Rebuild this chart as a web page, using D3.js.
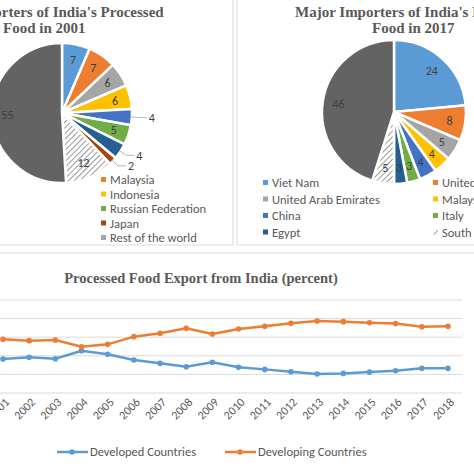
<!DOCTYPE html>
<html><head><meta charset="utf-8">
<script src="https://cdn.jsdelivr.net/npm/d3@7"></script>
<style>body{margin:0;background:#fff}svg{display:block}</style>
</head><body>
<svg id="c" width="474" height="474"></svg>
<script>
const pie1Values=[7,7,6,6,4,5,4,2,12,55];
const pie1Colors=["#5B9BD5","#ED7D31","#A5A5A5","#FFC000","#4472C4","#70AD47","#255E91","#9E480E","hatch","#636363"];
const pie1Legend=["Malaysia","Indonesia","Russian Federation","Japan","Rest of the world"];
const pie1LegendColors=["#ED7D31","#FFC000","#70AD47","#9E480E","#A5A5A5"];
const pie2Values=[24,8,5,4,4,3,3,5,46];
const pie2Colors=["#5B9BD5","#ED7D31","#A5A5A5","#FFC000","#4472C4","#70AD47","#255E91","hatch","#636363"];
const pie2LegendL=["Viet Nam","United Arab Emirates","China","Egypt"];
const pie2LegendLC=["#5B9BD5","#A5A5A5","#4472C4","#255E91"];
const pie2LegendR=["United Kingdom","Malaysia","Italy","South Africa"];
const pie2LegendRC=["#ED7D31","#FFC000","#70AD47","hatch"];
const years=["2001","2002","2003","2004","2005","2006","2007","2008","2009","2010","2011","2012","2013","2014","2015","2016","2017","2018"];
const developed=[36.6,38.4,36.9,45.5,41.6,35.5,31.9,28.3,33.0,27.6,25.4,22.9,20.4,21.1,22.6,24.0,26.5,26.5];
const developing=[57.7,56.3,57.0,49.8,52.3,60.6,64.2,69.5,63.4,68.8,71.7,74.9,77.4,76.7,75.6,74.6,71.3,71.7];

const svg=d3.select("#c");
const defs=svg.append("defs");
const pat=defs.append("pattern").attr("id","hatch").attr("patternUnits","userSpaceOnUse").attr("width",4).attr("height",4).attr("patternTransform","rotate(45)");
pat.append("rect").attr("width",4).attr("height",4).attr("fill","#fff");
pat.append("line").attr("x1",0).attr("y1",0).attr("x2",0).attr("y2",4).attr("stroke","#7f7f7f").attr("stroke-width",1.6);
const fillOf=c=>c==="hatch"?"url(#hatch)":c;
const titleFont="'Liberation Serif', serif";
const bodyFont="Calibri, Carlito, 'Open Sans', sans-serif";

svg.append("rect").attr("x",-5).attr("y",-5).attr("width",238).attr("height",250).attr("fill","none").attr("stroke","#d9d9d9");
svg.append("rect").attr("x",237).attr("y",-5).attr("width",250).attr("height",250).attr("fill","none").attr("stroke","#d9d9d9");
svg.append("rect").attr("x",-5).attr("y",253).attr("width",484).attr("height",230).attr("fill","none").attr("stroke","#d9d9d9");

function drawPie(cx,cy,r,values,colors,outside){
  const g=svg.append("g").attr("transform",`translate(${cx},${cy})`);
  const arcs=d3.pie().sort(null)(values);
  const arc=d3.arc().innerRadius(0).outerRadius(r);
  g.selectAll("path").data(arcs).join("path").attr("d",arc)
   .attr("fill",(d,i)=>fillOf(colors[i])).attr("stroke","#fff").attr("stroke-width",2.5);
  arcs.forEach((d,i)=>{
    const a=(d.startAngle+d.endAngle)/2;
    const out=outside.includes(i);
    const rr=out?r*1.1:r*0.78;
    let x=Math.sin(a)*rr,y=-Math.cos(a)*rr;
    if(out){
      const x0=Math.sin(a)*r*0.98,y0=-Math.cos(a)*r*0.98;
      g.append("polyline").attr("points",`${x0},${y0} ${x},${y} ${x+8},${y}`).attr("fill","none").attr("stroke","#a6a6a6").attr("stroke-width",0.8);
      x+=10;
    }
    g.append("text").attr("x",x).attr("y",y).attr("dy","0.35em").attr("text-anchor",out?"start":"middle")
     .attr("font-family",bodyFont).attr("font-size",12).attr("fill","#404040").text(values[i]);
  });
}
drawPie(62,113,70,pie1Values,pie1Colors,[4,6,7]);
drawPie(394,112,72,pie2Values,pie2Colors,[]);

function title(x,y,t,anchor){svg.append("text").attr("x",x).attr("y",y).attr("text-anchor",anchor||"start").attr("font-family",titleFont).attr("font-weight","bold").attr("font-size",15).attr("fill","#595959").text(t);}
title(-14,17,"porters of India's Processed");
title(3,33,"Food   in 2001");
title(295,17,"Major Importers of India's Processed");
title(372,33,"Food   in 2017");

function legend(x,y0,items,cols,dy){
  items.forEach((t,i)=>{
    const y=y0+i*dy;
    svg.append("rect").attr("x",x).attr("y",y-3).attr("width",5).attr("height",5).attr("fill",fillOf(cols[i]));
    svg.append("text").attr("x",x+9).attr("y",y).attr("dy","0.35em").attr("font-family",bodyFont).attr("font-size",12.5).attr("fill","#595959").text(t);
  });
}
legend(101,180,pie1Legend,pie1LegendColors,14.5);
legend(263,183,pie2LegendL,pie2LegendLC,16.5);
legend(433,183,pie2LegendR,pie2LegendRC,16.5);

const x=d3.scalePoint().domain(years).range([3,448]);
const y=d3.scaleLinear().domain([0,100]).range([393,300]);
svg.append("text").attr("x",201).attr("y",283).attr("text-anchor","middle").attr("font-family",titleFont).attr("font-weight","bold").attr("font-size",14.5).attr("fill","#595959").text("Processed Food Export from India (percent)");
const ga=svg.append("g");
y.ticks(5).forEach(t=>ga.append("line").attr("x1",-5).attr("x2",462).attr("y1",y(t)).attr("y2",y(t)).attr("stroke","#d9d9d9"));
years.forEach(yr=>{
  svg.append("text").attr("transform",`translate(${x(yr)+4},${400}) rotate(-45)`).attr("text-anchor","end").attr("dy","0.35em")
   .attr("font-family",bodyFont).attr("font-size",12).attr("fill","#595959").text(yr);
});
function series(vals,col){
  svg.append("path").datum(vals).attr("d",d3.line().x((d,i)=>x(years[i])).y(d=>y(d))).attr("fill","none").attr("stroke",col).attr("stroke-width",2.5);
  svg.append("g").selectAll("circle").data(vals).join("circle").attr("cx",(d,i)=>x(years[i])).attr("cy",d=>y(d)).attr("r",2.8).attr("fill",col);
}
series(developed,"#5B9BD5");
series(developing,"#ED7D31");
function lineLeg(x0,t,col){
  svg.append("line").attr("x1",x0).attr("x2",x0+31).attr("y1",452).attr("y2",452).attr("stroke",col).attr("stroke-width",2.5);
  svg.append("circle").attr("cx",x0+15).attr("cy",452).attr("r",2.8).attr("fill",col);
  svg.append("text").attr("x",x0+33).attr("y",452).attr("dy","0.35em").attr("font-family",bodyFont).attr("font-size",12.5).attr("fill","#595959").text(t);
}
lineLeg(57,"Developed Countries","#5B9BD5");
lineLeg(225,"Developing Countries","#ED7D31");
</script>
</body></html>
